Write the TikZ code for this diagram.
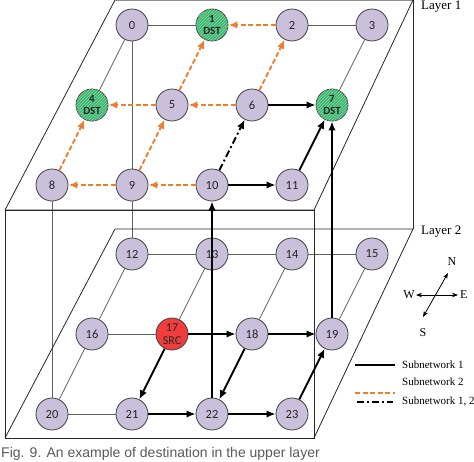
\documentclass[tikz,border=0pt]{standalone}
\usepackage{fontspec}
\setmainfont{Liberation Serif}
\newfontfamily\numfont{Carlito}
\newfontfamily\capfont{Liberation Sans}
\usetikzlibrary{positioning,arrows.meta,patterns,backgrounds}
\definecolor{nodelilac}{RGB}{202,192,220}
\definecolor{dstgreen}{RGB}{60,184,112}
\definecolor{srcred}{RGB}{240,60,60}
\definecolor{suborange}{RGB}{237,125,49}

\begin{document}
\begin{tikzpicture}[x=1pt, y=1pt,
					gridnode/.style={circle,
					draw=black!75,
					line width=0.8pt,
					fill=nodelilac,
					minimum size=32pt,
					inner sep=0pt,
					text=black!85,
					font=\numfont\fontsize{12.5}{13}\selectfont},
					dstnode/.style={gridnode,
					fill=dstgreen,
					postaction={pattern=north east lines, pattern color=white!40!dstgreen},
					align=center,
					font=\numfont\bfseries\fontsize{11}{12}\selectfont},
					srcnode/.style={gridnode,
					fill=srcred,
					align=center,
					font=\numfont\fontsize{12}{13.5}\selectfont},
					boxline/.style={line width=0.8pt, black!85},
					gridline/.style={line width=0.7pt, black!62},
					sub1/.style={->, line width=1.9pt, black},
					sub2/.style={->, line width=1.9pt, suborange, dash pattern=on 5pt off 2.5pt},
					sub12/.style={->, line width=1.9pt, black, dash pattern=on 7pt off 3pt on 2pt off 3pt},
					legendtext/.style={anchor=west, inner sep=0pt, font=\fontsize{11}{13}\selectfont},
					node distance = 80pt,
					>={Latex[length=9pt,width=7.5pt]}
					]

\useasboundingbox (0,0) rectangle (474,-461);

% box and layers
\draw[boxline] (5,-210) -- (115,0);
\draw[black!45, line width=2pt] (115,0) -- (413,0);
\draw[boxline] (413,0) -- (314,-210) -- (5,-210);
\draw[boxline] (413,0) -- (413,-229);
\draw[boxline] (5,-210) rectangle (314,-438);
\draw[boxline] (115,-229) -- (413,-229) -- (314,-438);
\draw[boxline] (5,-438) -- (115,-229);

% layer 1
\node[gridnode]  (n0) at (132,-25) {0};
\node[dstnode]   (n1) [right of = n0] {1\\DST};
\node[gridnode]  (n2) [right of = n1] {2};
\node[gridnode]  (n3) [right of = n2] {3};

\node[dstnode]   (n4) [below of = n0, xshift=-40pt] {4\\DST};
\node[gridnode]  (n5) [right of = n4] {5};
\node[gridnode]  (n6) [right of = n5] {6};
\node[dstnode]   (n7) [right of = n6] {7\\DST};

\node[gridnode]  (n8) [below of = n4, xshift=-40pt] {8};
\node[gridnode]  (n9) [right of = n8] {9};
\node[gridnode]  (n10) [right of = n9] {10};
\node[gridnode]  (n11) [right of = n10] {11};

% layer 2
\node[gridnode]  (n12) [below of = n0, node distance = 229pt] {12};
\node[gridnode]  (n13) [right of = n12] {13};
\node[gridnode]  (n14) [right of = n13] {14};
\node[gridnode]  (n15) [right of = n14] {15};

\node[gridnode]  (n16) [below of = n12, xshift=-40pt] {16};
\node[srcnode]   (n17) [right of = n16] {17\\SRC};
\node[gridnode]  (n18) [right of = n17] {18};
\node[gridnode]  (n19) [right of = n18] {19};

\node[gridnode]  (n20) [below of = n16, xshift=-40pt] {20};
\node[gridnode]  (n21) [right of = n20] {21};
\node[gridnode]  (n22) [right of = n21] {22};
\node[gridnode]  (n23) [right of = n22] {23};

% plain links
\begin{pgfonlayer}{background}
\draw[gridline] (n0) -- (n1);
\draw[gridline] (n2) -- (n3);
\draw[gridline] (n0) -- (n4);
\draw[gridline] (n3) -- (n7);
\draw[gridline] (n0) -- (n12);
\draw[gridline] (n8) -- (n20);
\draw[gridline] (n12) -- (n13);
\draw[gridline] (n13) -- (n14);
\draw[gridline] (n14) -- (n15);
\draw[gridline] (n12) -- (n16);
\draw[gridline] (n16) -- (n20);
\draw[gridline] (n16) -- (n17);
\draw[gridline] (n13) -- (n17);
\draw[gridline] (n14) -- (n18);
\draw[gridline] (n15) -- (n19);
\draw[gridline] (n20) -- (n21);
\end{pgfonlayer}

% subnetwork 2
\draw[sub2] (n2) -- (n1);
\draw[sub2] (n6) -- (n5);
\draw[sub2] (n5) -- (n4);
\draw[sub2] (n10) -- (n9);
\draw[sub2] (n9) -- (n8);
\draw[sub2] (n8) -- (n4);
\draw[sub2] (n9) -- (n5);
\draw[sub2] (n5) -- (n1);
\draw[sub2] (n6) -- (n2);

% subnetwork 1
\draw[sub1] (n6) -- (n7);
\draw[sub1] (n10) -- (n11);
\draw[sub1] (n11) -- (n7);
\draw[sub1] (n17) -- (n18);
\draw[sub1] (n18) -- (n19);
\draw[sub1] (n17) -- (n21);
\draw[sub1] (n21) -- (n22);
\draw[sub1] (n22) -- (n23);
\draw[sub1] (n23) -- (n19);
\draw[sub1] (n18) -- (n22);
\draw[sub1] (n22.north) -- (n10.south);
\draw[sub1] (n19.north) -- (n7.south);

% shared
\draw[sub12] (n10) -- (n6);

% layer labels
\node[legendtext, font=\fontsize{13}{15}\selectfont] (lay1) at (421,-7) {Layer 1};
\node[legendtext, font=\fontsize{13}{15}\selectfont] (lay2) at (421,-232) {Layer 2};

% compass
\coordinate (west) at (416,-295);
\coordinate (east) at (458,-295);
\coordinate (south) at (423,-317);
\coordinate (north) at (448,-273);
\draw[<->, line width=0.8pt, >={Stealth[length=6pt,width=4.5pt]}] (west) -- (east);
\draw[<->, line width=0.8pt, >={Stealth[length=6pt,width=4.5pt]}] (south) -- (north);
\node[font=\fontsize{12}{14}\selectfont, anchor=east, inner sep=1pt] at (west) {W};
\node[font=\fontsize{12}{14}\selectfont, anchor=west, inner sep=2pt] at (east) {E};
\node[font=\fontsize{12}{14}\selectfont] at (452,-262) {N};
\node[font=\fontsize{12}{14}\selectfont] at (423,-333) {S};

% legend
\coordinate (l1a) at (355,-365);
\coordinate (l1b) at (395,-365);
\coordinate (l2a) at (355,-393);
\coordinate (l2b) at (395,-393);
\coordinate (l3a) at (357,-402);
\coordinate (l3b) at (393,-402);
\draw[line width=1.9pt] (l1a) -- (l1b);
\draw[line width=1.9pt, suborange, dash pattern=on 5pt off 2.5pt] (l2a) -- (l2b);
\draw[line width=1.9pt, dash pattern=on 7pt off 3pt on 2pt off 3pt] (l3a) -- (l3b);
\node[legendtext] at (402,-365) {Subnetwork 1};
\node[legendtext] at (402,-382) {Subnetwork 2};
\node[legendtext] at (402,-402) {Subnetwork 1, 2};

% caption
\node[anchor=base west, inner sep=0pt, text=black!65, font=\capfont\fontsize{14}{16}\selectfont] (cap) at (1,-457.5) {Fig. 9. An example of destination in the upper layer};

\end{tikzpicture}
\end{document}
